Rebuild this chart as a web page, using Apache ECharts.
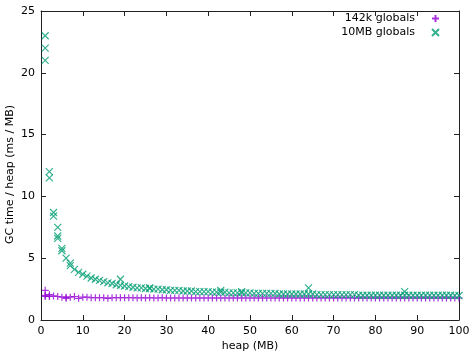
<!DOCTYPE html>
<html>
<head>
<meta charset="utf-8">
<script src="https://cdn.jsdelivr.net/npm/echarts@6/dist/echarts.min.js"></script>
<style>
  html, body { margin: 0; padding: 0; background: #fff; }
  #chart { width: 474px; height: 355px; }
</style>
</head>
<body>
<div id="chart"></div>
<script>
// heap sizes (MB), one run per size
let heap = [
  1, 2, 3, 4, 5, 6, 7, 8, 9, 10,
  11, 12, 13, 14, 15, 16, 17, 18, 19, 20,
  21, 22, 23, 24, 25, 26, 27, 28, 29, 30,
  31, 32, 33, 34, 35, 36, 37, 38, 39, 40,
  41, 42, 43, 44, 45, 46, 47, 48, 49, 50,
  51, 52, 53, 54, 55, 56, 57, 58, 59, 60,
  61, 62, 63, 64, 65, 66, 67, 68, 69, 70,
  71, 72, 73, 74, 75, 76, 77, 78, 79, 80,
  81, 82, 83, 84, 85, 86, 87, 88, 89, 90,
  91, 92, 93, 94, 95, 96, 97, 98, 99, 100
];

// GC time / heap (ms / MB)
let globals142k = [
  2.0, 2.05, 1.95, 1.9, 1.85, 1.85, 1.85, 1.9, 1.75, 1.85,
  1.85, 1.8, 1.8, 1.8, 1.8, 1.75, 1.8, 1.8, 1.8, 1.8,
  1.8, 1.8, 1.78, 1.8, 1.78, 1.8, 1.78, 1.78, 1.8, 1.78,
  1.78, 1.78, 1.78, 1.78, 1.78, 1.78, 1.78, 1.78, 1.78, 1.78,
  1.78, 1.78, 1.78, 1.78, 1.78, 1.78, 1.78, 1.78, 1.78, 1.78,
  1.78, 1.78, 1.78, 1.78, 1.78, 1.78, 1.78, 1.78, 1.78, 1.78,
  1.78, 1.78, 1.78, 1.78, 1.78, 1.78, 1.78, 1.78, 1.78, 1.78,
  1.78, 1.78, 1.78, 1.78, 1.78, 1.78, 1.78, 1.78, 1.78, 1.78,
  1.78, 1.78, 1.78, 1.78, 1.78, 1.78, 1.78, 1.78, 1.78, 1.78,
  1.78, 1.78, 1.78, 1.78, 1.78, 1.78, 1.78, 1.78, 1.78, 1.78
];

let globals10MB = [
  22.0, 11.5, 8.4, 6.8, 5.6, 5.0, 4.4, 4.1, 3.85, 3.7,
  3.55, 3.4, 3.3, 3.2, 3.1, 3.0, 2.95, 2.85, 2.8, 2.75,
  2.7, 2.65, 2.6, 2.6, 2.55, 2.55, 2.5, 2.5, 2.45, 2.45,
  2.4, 2.4, 2.4, 2.35, 2.35, 2.35, 2.3, 2.3, 2.3, 2.3,
  2.25, 2.25, 2.25, 2.25, 2.2, 2.2, 2.2, 2.2, 2.2, 2.2,
  2.15, 2.15, 2.15, 2.15, 2.15, 2.15, 2.1, 2.1, 2.1, 2.1,
  2.1, 2.1, 2.1, 2.1, 2.1, 2.05, 2.05, 2.05, 2.05, 2.05,
  2.05, 2.05, 2.05, 2.05, 2.05, 2.0, 2.0, 2.0, 2.0, 2.0,
  2.0, 2.0, 2.0, 2.0, 2.0, 2.0, 2.0, 2.0, 2.0, 2.0,
  2.0, 2.0, 2.0, 2.0, 2.0, 2.0, 2.0, 2.0, 1.98, 1.98
];

// extra runs (repeated heap sizes)
let extraHeap142k = [1, 1, 2, 6];
let extra142k = [2.4, 1.9, 1.9, 1.75];

let extraHeap10MB = [1, 1, 2, 3, 4, 4, 5, 7, 19, 26, 43, 48, 64, 87];
let extra10MB = [23.0, 21.0, 12.0, 8.7, 7.5, 6.6, 5.8, 4.6, 3.3, 2.6, 2.4, 2.3, 2.6, 2.3];

let xTicks = [0, 10, 20, 30, 40, 50, 60, 70, 80, 90, 100];
let yTicks = [0, 5, 10, 15, 20, 25];

function pairs (xs, ys) {
  return xs.map(function (x, i) { return [x, ys[i]]; });
}

let plusSymbol = 'path://M0,5L10,5M5,0L5,10';
let crossSymbol = 'path://M0,0L10,10M10,0L0,10';
let purple = '#9400d3';
let green = '#009e73';
let fontFamily = 'DejaVu Sans';

let myChart = echarts.init(document.getElementById('chart'), null, { renderer: 'canvas' });

let axisCommon = {
  axisLine: { show: true, onZero: false, lineStyle: { color: '#222', width: 1 } },
  axisTick: { show: true, inside: true, length: 5, lineStyle: { color: '#222' } },
  splitLine: { show: false }
};

myChart.setOption({
  backgroundColor: '#fff',
  animation: false,
  textStyle: { fontFamily: fontFamily },
  grid: { left: 41, right: 15, top: 11, bottom: 35, outerBoundsMode: 'none', containLabel: false },
  legend: {
    orient: 'vertical',
    right: 34,
    top: 13,
    padding: 0,
    align: 'right',
    itemWidth: 7,
    itemHeight: 7,
    itemGap: 3,
    textStyle: { fontSize: 11, color: '#000', fontFamily: fontFamily, padding: [0, 12, 0, 0] },
    data: ['142k globals', '10MB globals']
  },
  xAxis: [
    Object.assign({}, axisCommon, {
      type: 'value',
      min: xTicks[0],
      max: xTicks[xTicks.length - 1],
      interval: 10,
      name: 'heap (MB)',
      nameLocation: 'middle',
      nameGap: 21,
      nameMoveOverlap: false,
      nameTextStyle: { fontSize: 11, color: '#000' },
      axisLabel: { fontSize: 11, color: '#000', margin: 6 }
    }),
    Object.assign({}, axisCommon, {
      type: 'value',
      position: 'top',
      min: xTicks[0],
      max: xTicks[xTicks.length - 1],
      interval: 10,
      axisLabel: { show: false }
    })
  ],
  yAxis: [
    Object.assign({}, axisCommon, {
      type: 'value',
      min: yTicks[0],
      max: yTicks[yTicks.length - 1],
      interval: 5,
      name: 'GC time / heap (ms / MB)',
      nameLocation: 'middle',
      nameGap: 25,
      nameMoveOverlap: false,
      nameTextStyle: { fontSize: 11, color: '#000', padding: [0, 18, 0, 0] },
      axisLabel: { fontSize: 11, color: '#000', margin: 6 }
    }),
    Object.assign({}, axisCommon, {
      type: 'value',
      position: 'right',
      min: yTicks[0],
      max: yTicks[yTicks.length - 1],
      interval: 5,
      axisLabel: { show: false }
    })
  ],
  series: [
    {
      type: 'scatter',
      name: '142k globals',
      symbol: plusSymbol,
      symbolSize: 7,
      itemStyle: { color: 'rgba(0,0,0,0)', borderColor: purple, borderWidth: 1.2 },
      data: pairs(heap, globals142k).concat(pairs(extraHeap142k, extra142k))
    },
    {
      type: 'scatter',
      name: '10MB globals',
      symbol: crossSymbol,
      symbolSize: 7,
      itemStyle: { color: 'rgba(0,0,0,0)', borderColor: green, borderWidth: 1.2 },
      data: pairs(heap, globals10MB).concat(pairs(extraHeap10MB, extra10MB))
    }
  ]
});
</script>
</body>
</html>
